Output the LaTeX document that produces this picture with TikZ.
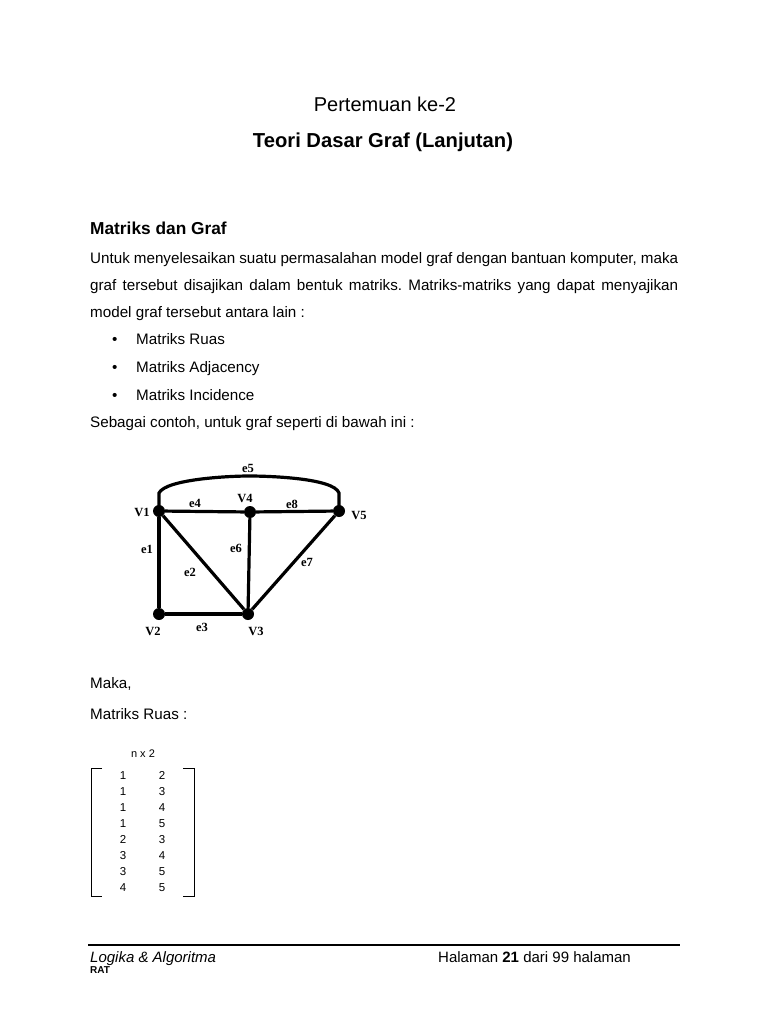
\documentclass[tikz,border=0pt]{standalone}
\usepackage{fontspec}
\setmainfont{Liberation Sans}
\newfontfamily\gfont{Liberation Serif}
\frenchspacing
\begin{document}
\begin{tikzpicture}[x=1pt,y=-1pt,
  body/.style={anchor=base west,inner sep=0pt,font=\fontsize{15.2}{18}\selectfont},
  glabel/.style={inner sep=0pt,font=\gfont\bfseries\fontsize{12.5}{14}\selectfont},
  vtx/.style={circle,fill=black,inner sep=0pt,minimum size=12pt},
  edge/.style={line width=3.2pt},
  num/.style={anchor=base,inner sep=0pt,font=\fontsize{11.5}{13}\selectfont},
  foot/.style={anchor=base west,inner sep=0pt,font=\fontsize{15}{17}\selectfont}]
\useasboundingbox[fill=white] (0,0) rectangle (768,1024);
% titles
\node[inner sep=0pt,anchor=base,font=\fontsize{20}{24}\selectfont] (t1) at (385,111.5) {Pertemuan ke-2};
\node[inner sep=0pt,anchor=base,font=\bfseries\fontsize{20.2}{24}\selectfont] (t2) at (383,148) {Teori Dasar Graf (Lanjutan)};
\node[inner sep=0pt,anchor=base west,font=\bfseries\fontsize{17.3}{20}\selectfont] (h1) at (90,234) {Matriks dan Graf};
% paragraph
\node[body] (p1) at (90,263.5) {\makebox[588pt][s]{Untuk menyelesaikan suatu permasalahan model graf dengan bantuan komputer, maka}};
\node[body] (p2) at (90,290.5) {\makebox[588pt][s]{graf tersebut disajikan dalam bentuk matriks. Matriks-matriks yang dapat menyajikan}};
\node[body] (p3) at (90,317.5) {model graf tersebut antara lain :};
\node[body] (b1) at (112,344.5) {\textbullet};
\node[body] (l1) at (136,344.5) {Matriks Ruas};
\node[body] (b2) at (112,372.5) {\textbullet};
\node[body] (l2) at (136,372.5) {Matriks Adjacency};
\node[body] (b3) at (112,400.5) {\textbullet};
\node[body] (l3) at (136,400.5) {Matriks Incidence};
\node[body] (p4) at (90,427.5) {Sebagai contoh, untuk graf seperti di bawah ini :};
% graph
\node[vtx] (v1) at (159,511) {};
\node[vtx] (v4) at (250,512) {};
\node[vtx] (v5) at (339,511) {};
\node[vtx] (v2) at (159,614) {};
\node[vtx] (v3) at (248,614) {};
\draw[edge] (v1) -- (v4) -- (v5);
\draw[edge] (v1) -- (v2) -- (v3);
\draw[edge] (v1) -- (v3);
\draw[edge] (v4) -- (v3);
\draw[edge] (v5) -- (v3);
\draw[edge] (v1.center) -- (159,493) .. controls (166,479) and (230,476) .. (249,476)
  .. controls (268,476) and (334,478) .. (339,493) -- (v5.center);
\node[glabel] (le5) at (248,468) {e5};
\node[glabel] (lv1) at (142,512) {V1};
\node[glabel] (le4) at (195,503) {e4};
\node[glabel] (lv4) at (245,498) {V4};
\node[glabel] (le8) at (292,504) {e8};
\node[glabel] (lv5) at (359,515) {V5};
\node[glabel] (le1) at (147,549) {e1};
\node[glabel] (le6) at (236,548) {e6};
\node[glabel] (le2) at (190,572) {e2};
\node[glabel] (le7) at (307,562) {e7};
\node[glabel] (lv2) at (153,631) {V2};
\node[glabel] (le3) at (202,627) {e3};
\node[glabel] (lv3) at (256,631) {V3};
% Maka
\node[body] (m1) at (90,688.5) {Maka,};
\node[body] (m2) at (90,719.5) {Matriks Ruas :};
\node[inner sep=0pt,font=\fontsize{11}{12}\selectfont] (nx) at (143,754) {n x 2};
% matrix brackets
\coordinate (lbt) at (102,768);
\coordinate (lbb) at (102,896);
\coordinate (rbt) at (183,768);
\coordinate (rbb) at (183,896);
\draw[line width=0.9pt] (lbt) -| (91,896) -- (lbb);
\draw[line width=0.9pt] (rbt) -| (194,896) -- (rbb);
\foreach \a/\b [count=\i] in {1/2,1/3,1/4,1/5,2/3,3/4,3/5,4/5}{
  \pgfmathsetmacro\yy{779+16.1*(\i-1)}
  \node[num] (ma\i) at (123,\yy) {\a};
  \node[num] (mb\i) at (162,\yy) {\b};
}
% footer
\coordinate (fl) at (88,945);
\coordinate (fr) at (680,945);
\draw[line width=1.6pt] (fl) -- (fr);
\node[foot,font=\itshape\fontsize{15}{17}\selectfont] (f1) at (90,962.5) {Logika \& Algoritma};
\node[foot] (f2) at (438,962.5) {Halaman \textbf{21} dari 99 halaman};
\node[foot,font=\bfseries\fontsize{10}{11}\selectfont] (f3) at (90,973) {RAT};
\end{tikzpicture}
\end{document}
